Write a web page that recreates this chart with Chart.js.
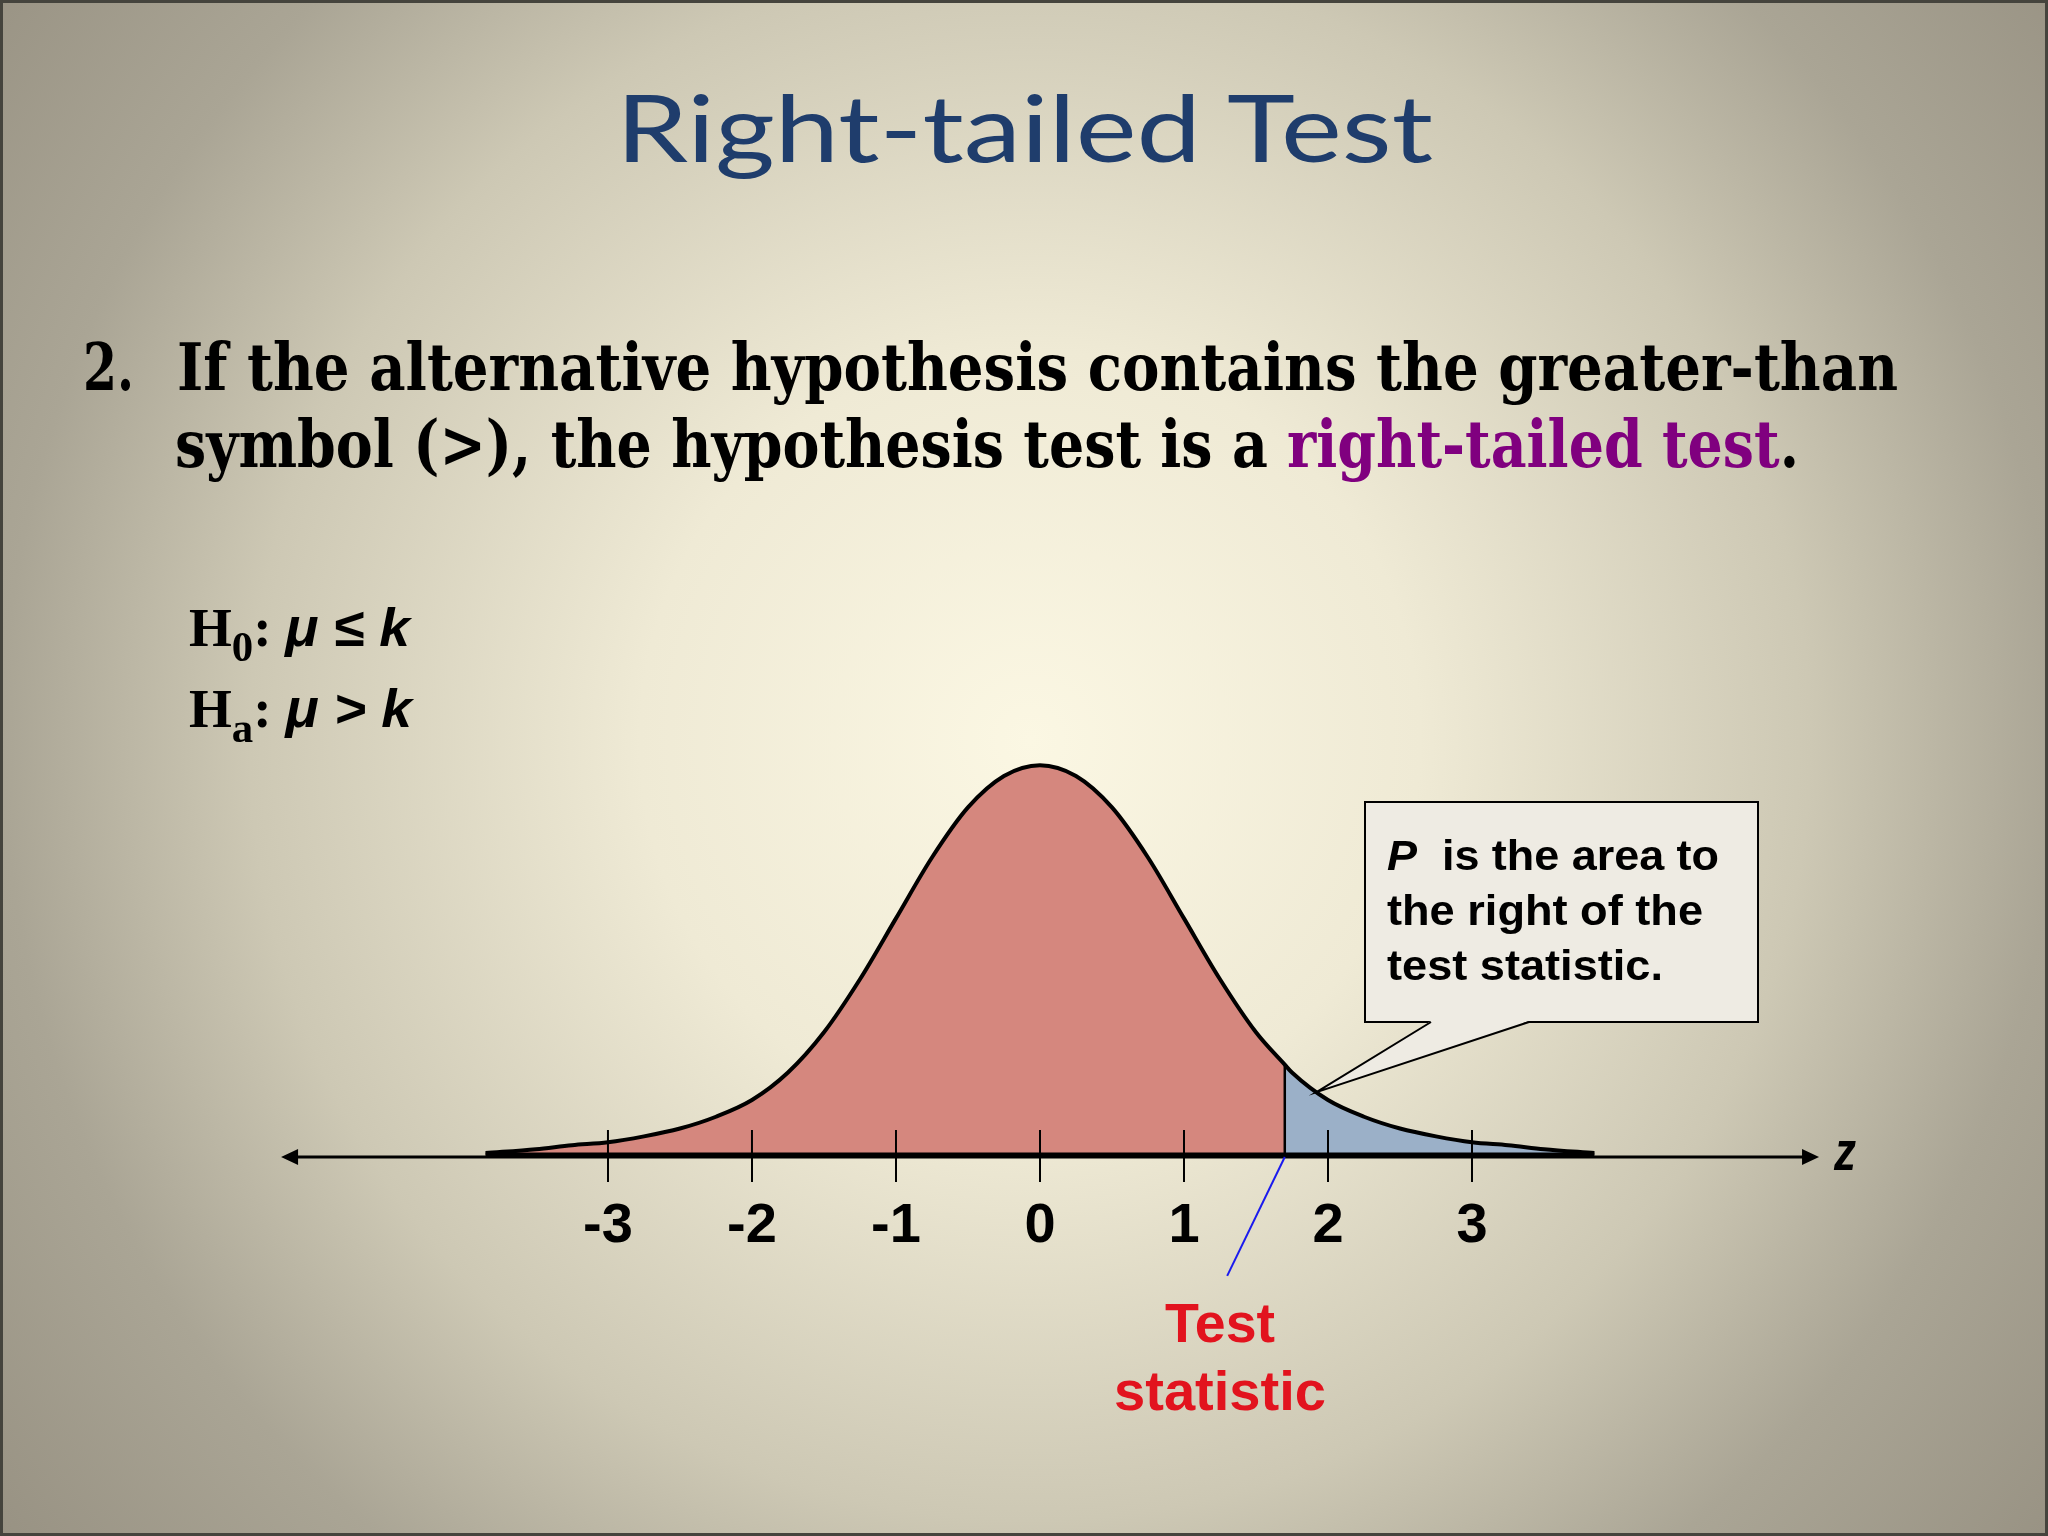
<!DOCTYPE html>
<html>
<head>
<meta charset="utf-8">
<script src="https://cdn.jsdelivr.net/npm/chart.js@4.4.1/dist/chart.umd.min.js"></script>
<style>
  body { margin: 0; background: #888; }
  #slide {
    position: relative; width: 2048px; height: 1536px; overflow: hidden;
    background: radial-gradient(circle 1300px at 1030px 740px, #fbf7e3 0%, #efead5 30%, #cdc8b4 60%, #aaa595 79%, #989283 100%);
  }
  #frame { position: absolute; left: 0; top: 0; width: 2048px; height: 1536px; box-sizing: border-box; border: 3px solid #45443d; pointer-events: none; }
  canvas { position: absolute; left: 0; top: 0; }
  .t { position: absolute; white-space: nowrap; line-height: normal; transform-origin: left center; }
  .title { font-family: Lato, "Open Sans", sans-serif; font-size: 93px; color: #1f3d6c; }
  .body { font-family: "DejaVu Serif", serif; font-weight: bold; font-size: 66px; color: #000; }
  .purple { color: #80007f; }
  .hyp { font-family: "Liberation Serif", serif; font-weight: bold; font-size: 54px; color: #000; }
  .hyp sub { font-size: 42px; vertical-align: -15px; line-height: 0; }
  .hyp i { font-family: "Liberation Sans", sans-serif; font-weight: bold; font-size: 54px; }
  .note { font-family: "Liberation Sans", sans-serif; font-weight: bold; font-size: 43px; color: #000; }
  .red { font-family: "Liberation Sans", sans-serif; font-weight: bold; font-size: 56px; color: #e2131e; }
  .zlab { font-family: "Liberation Sans", sans-serif; font-weight: bold; font-style: italic; font-size: 56px; }
</style>
</head>
<body>
<div id="slide">
  <canvas id="chart" width="2048" height="1536"></canvas>
  <div class="t title" data-x="1024" data-b="162" data-w="817" data-align="center">Right-tailed Test</div>
  <div class="t body" data-x="83" data-b="390" data-w="51">2.</div>
  <div class="t body" data-x="177" data-b="390" data-w="1721">If the alternative hypothesis contains the greater-than</div>
  <div class="t body" data-x="175" data-b="467" data-w="1624">symbol (&gt;), the hypothesis test is a <span class="purple">right-tailed test</span>.</div>
  <div class="t hyp" data-x="189" data-b="646" data-w="221">H<sub>0</sub>: <i>μ ≤ k</i></div>
  <div class="t hyp" data-x="189" data-b="727" data-w="223">H<sub>a</sub>: <i>μ &gt; k</i></div>
  <div class="t note" data-x="1387" data-b="870" data-w="332"><i>P</i>&nbsp; is the area to</div>
  <div class="t note" data-x="1387" data-b="925" data-w="316">the right of the</div>
  <div class="t note" data-x="1387" data-b="980" data-w="276">test statistic.</div>
  <div class="t zlab" data-x="1845" data-b="1170" data-w="22" data-align="center">z</div>
  <div class="t red" data-x="1220" data-b="1342" data-w="110" data-align="center">Test</div>
  <div class="t red" data-x="1220" data-b="1410" data-w="212" data-align="center">statistic</div>
  <div id="frame"></div>
</div>
<script>
// curve (z, height)
const zValues = [-3.85, -3.5, -3.25, -3, -2.75, -2.5, -2.25, -2, -1.75, -1.5, -1.25, -1, -0.75, -0.5, -0.25,
  0, 0.25, 0.5, 0.75, 1, 1.25, 1.5, 1.7, 1.75, 2, 2.25, 2.5, 2.75, 3, 3.25, 3.5, 3.85];
const density = [0.004, 0.008, 0.012, 0.015, 0.021, 0.029, 0.041, 0.058, 0.086, 0.127, 0.181, 0.243, 0.305, 0.356, 0.388,
  0.399, 0.388, 0.356, 0.305, 0.243, 0.181, 0.127, 0.094, 0.086, 0.058, 0.041, 0.029, 0.021, 0.015, 0.012, 0.008, 0.004];
const tickValues = [-3, -2, -1, 0, 1, 2, 3];
const testStat = 1.7;
const testStatHeight = 0.094;
const baseHeight = 0.002;

const points = zValues.map((z, i) => ({ x: z, y: density[i] }));
const leftPart = points.filter(p => p.x <= testStat);
const rightPart = points.filter(p => p.x >= testStat);

// axis line with arrows, upper halves of the ticks, leader lines and the callout
const slideDecor = {
  id: 'slideDecor',
  afterDatasetsDraw(chart) {
    const ctx = chart.ctx;
    const x = chart.scales.x, y = chart.scales.y;
    const y0 = y.getPixelForValue(0);
    const xa = x.getPixelForValue(-5.27), xb = x.getPixelForValue(5.41);
    ctx.save();
    ctx.strokeStyle = '#000';
    ctx.fillStyle = '#000';
    ctx.lineWidth = 3;
    ctx.beginPath();
    ctx.moveTo(xa + 10, y0);
    ctx.lineTo(xb - 10, y0);
    ctx.stroke();
    ctx.beginPath();
    ctx.moveTo(xa, y0); ctx.lineTo(xa + 17, y0 - 8); ctx.lineTo(xa + 17, y0 + 8); ctx.closePath();
    ctx.moveTo(xb, y0); ctx.lineTo(xb - 17, y0 - 8); ctx.lineTo(xb - 17, y0 + 8); ctx.closePath();
    ctx.fill();

    ctx.lineWidth = 2;
    x.ticks.forEach(t => {
      const px = x.getPixelForValue(t.value);
      ctx.beginPath();
      ctx.moveTo(px, y0);
      ctx.lineTo(px, y0 - 27);
      ctx.stroke();
    });

    // blue leader from the test statistic to its label
    ctx.strokeStyle = '#1a1aee';
    ctx.lineWidth = 2;
    ctx.beginPath();
    ctx.moveTo(x.getPixelForValue(testStat), y0);
    ctx.lineTo(x.getPixelForValue(1.3), y.getPixelForValue(-0.121));
    ctx.stroke();
    ctx.restore();
  },
  afterDraw(chart) {
    const ctx = chart.ctx;
    const x = chart.scales.x, y = chart.scales.y;
    const tipX = x.getPixelForValue(1.92), tipY = y.getPixelForValue(0.066);
    const bx = 1365, by = 802, bw = 393, bh = 220;
    ctx.save();
    ctx.fillStyle = '#eeebe3';
    ctx.strokeStyle = '#000';
    ctx.lineWidth = 2;
    ctx.fillRect(bx, by, bw, bh);
    ctx.strokeRect(bx, by, bw, bh);
    ctx.beginPath();
    ctx.moveTo(1431, by + bh - 1);
    ctx.lineTo(tipX, tipY);
    ctx.lineTo(1529, by + bh - 1);
    ctx.closePath();
    ctx.fill();
    ctx.beginPath();
    ctx.moveTo(1431, by + bh);
    ctx.lineTo(tipX, tipY);
    ctx.lineTo(1529, by + bh);
    ctx.stroke();
    ctx.restore();
  }
};

new Chart(document.getElementById('chart'), {
  type: 'line',
  data: {
    datasets: [
      { data: leftPart, fill: 'origin', backgroundColor: '#d5877e', borderWidth: 0, order: 5, cubicInterpolationMode: 'monotone' },
      { data: rightPart, fill: 'origin', backgroundColor: '#9bb0c8', borderWidth: 0, order: 5, cubicInterpolationMode: 'monotone' },
      { data: [{ x: zValues[0], y: baseHeight }, { x: zValues[zValues.length - 1], y: baseHeight }], borderColor: '#000', borderWidth: 5, fill: false, order: 3 },
      { data: [{ x: testStat, y: 0 }, { x: testStat, y: testStatHeight }], borderColor: '#000', borderWidth: 2.5, fill: false, order: 2 },
      { data: points, borderColor: '#000', borderWidth: 4, fill: false, order: 1, cubicInterpolationMode: 'monotone' }
    ]
  },
  options: {
    responsive: false,
    devicePixelRatio: 1,
    animation: false,
    events: [],
    elements: { point: { radius: 0 } },
    layout: { padding: { left: 272, right: 216, top: 666, bottom: 279 } },
    plugins: { legend: { display: false }, tooltip: { enabled: false } },
    scales: {
      x: {
        type: 'linear',
        min: -5.333,
        max: 5.5,
        afterBuildTicks: scale => { scale.ticks = tickValues.map(v => ({ value: v })); },
        afterFit: scale => { scale.height = 100; },
        border: { display: false },
        grid: { drawOnChartArea: false, drawTicks: true, tickLength: 25, color: '#000', lineWidth: 2 },
        ticks: {
          autoSkip: false, maxRotation: 0, padding: 11, color: '#000',
          font: { family: 'Liberation Sans', weight: 'bold', size: 56 }
        }
      },
      y: { display: false, min: 0, max: 0.5 }
    }
  },
  plugins: [slideDecor]
});

// place each text by its left edge (or centre), baseline and width
function place(el) {
  const mark = document.createElement('span');
  mark.style.display = 'inline-block';
  mark.style.width = '0';
  mark.style.height = '0';
  el.appendChild(mark);
  el.style.left = '0px';
  el.style.top = '0px';
  const base = mark.offsetTop;
  const w = el.getBoundingClientRect().width;
  const target = +el.dataset.w;
  const left = el.dataset.align === 'center' ? +el.dataset.x - target / 2 : +el.dataset.x;
  el.style.left = left + 'px';
  el.style.top = (+el.dataset.b - base) + 'px';
  el.style.transform = 'scaleX(' + (target / w) + ')';
}
document.fonts.ready.then(() => document.querySelectorAll('.t').forEach(place));
</script>
</body>
</html>
